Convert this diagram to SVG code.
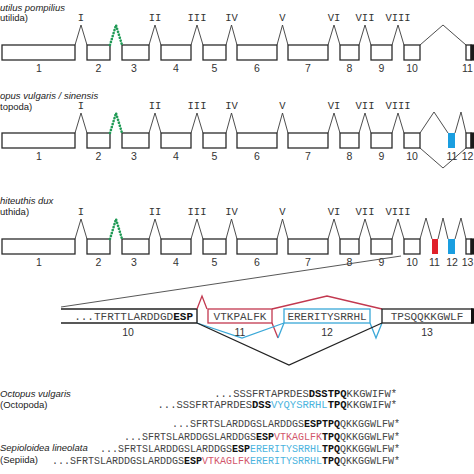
<svg xmlns="http://www.w3.org/2000/svg" width="474" height="474" viewBox="0 0 474 474">
<style>
.ex{fill:#fff;stroke:#2b2b2b;stroke-width:1.3}
.in{fill:none;stroke:#3a3a3a;stroke-width:0.9}
.gr{fill:none;stroke:#1f9a55;stroke-width:2.6;stroke-dasharray:0.1 3;stroke-linecap:round}
.rn{font-family:"Liberation Mono",monospace;font-size:10.5px;fill:#333;text-anchor:middle}
.nm{font-family:"Liberation Sans",Arial,sans-serif;font-size:10.5px;fill:#333;text-anchor:middle}
.sp{font-family:"Liberation Sans",Arial,sans-serif;font-size:9.5px;fill:#222}
.it{font-style:italic}
.sq{font-family:"Liberation Mono",monospace;font-size:10px;fill:#444}
.sq2{font-family:"Liberation Mono",monospace;font-size:10.5px;fill:#444}
.dt{font-family:"Liberation Mono",monospace;font-size:11px;fill:#444}
.b{font-weight:bold;fill:#111}
.r{fill:#d2566b}
.bl{fill:#4cb4de}
</style>
<defs>
<g id="trk">
<rect class="ex" x="2" y="0" width="73" height="15"/>
<rect class="ex" x="87" y="0" width="23" height="15"/>
<rect class="ex" x="122" y="0" width="27" height="15"/>
<rect class="ex" x="161" y="0" width="30" height="15"/>
<rect class="ex" x="203" y="0" width="23" height="15"/>
<rect class="ex" x="237" y="0" width="40" height="15"/>
<rect class="ex" x="288" y="0" width="40" height="15"/>
<rect class="ex" x="340" y="0" width="19" height="15"/>
<rect class="ex" x="371" y="0" width="21" height="15"/>
<rect class="ex" x="404" y="0" width="16" height="15"/>
<polyline class="in" points="75,0 81,-20 87,0"/>
<polyline class="gr" points="110,0 116,-20 122,0"/>
<polyline class="in" points="149,0 155,-20 161,0"/>
<polyline class="in" points="191,0 197,-20 203,0"/>
<polyline class="in" points="226,0 231.5,-20 237,0"/>
<polyline class="in" points="277,0 282.5,-20 288,0"/>
<polyline class="in" points="328,0 334,-20 340,0"/>
<polyline class="in" points="359,0 365,-20 371,0"/>
<polyline class="in" points="392,0 398,-20 404,0"/>
<text class="rn" x="81" y="-24">I</text>
<text class="rn" x="155" y="-24">II</text>
<text class="rn" x="197" y="-24">III</text>
<text class="rn" x="231.5" y="-24">IV</text>
<text class="rn" x="282.5" y="-24">V</text>
<text class="rn" x="334" y="-24">VI</text>
<text class="rn" x="365" y="-24">VII</text>
<text class="rn" x="398" y="-24">VIII</text>
<text class="nm" x="39" y="26.5">1</text>
<text class="nm" x="98.5" y="26.5">2</text>
<text class="nm" x="134" y="26.5">3</text>
<text class="nm" x="176" y="26.5">4</text>
<text class="nm" x="214.5" y="26.5">5</text>
<text class="nm" x="257" y="26.5">6</text>
<text class="nm" x="308" y="26.5">7</text>
<text class="nm" x="349.5" y="26.5">8</text>
<text class="nm" x="381.5" y="26.5">9</text>
<text class="nm" x="412" y="26.5">10</text>
</g>
</defs>

<g id="nautilus">
<text class="sp it" x="0" y="11">utilus pompilius</text>
<text class="sp" x="0" y="21">utilida)</text>
<g transform="translate(0,45)">
<use href="#trk"/>
<polyline class="in" points="420,0 443,-20 466,0"/>
<rect class="ex" x="466" y="0" width="5" height="15"/>
<rect x="470.5" y="-0.6" width="4" height="16.2" fill="#1a1a1a"/>
<text class="nm" x="467.5" y="26.5">11</text>
</g>
</g>

<g id="octopus">
<text class="sp it" x="0" y="99">opus vulgaris / sinensis</text>
<text class="sp" x="0" y="110">topoda)</text>
<g transform="translate(0,133)">
<use href="#trk"/>
<polyline class="in" points="420,0 434,-21 448,0"/>
<rect x="448" y="0" width="7" height="15" fill="#1a9ee0"/>
<polyline class="in" points="455,0 461,-21 466,0"/>
<polyline class="in" points="420,15 443,35 466,15"/>
<rect class="ex" x="466" y="0" width="5" height="15"/>
<rect x="470.5" y="-0.6" width="4" height="16.2" fill="#1a1a1a"/>
<text class="nm" x="452" y="26.5">11</text>
<text class="nm" x="467.5" y="26.5">12</text>
</g>
</g>

<g id="architeuthis">
<text class="sp it" x="0" y="204">hiteuthis dux</text>
<text class="sp" x="0" y="215">uthida)</text>
<g transform="translate(0,239)">
<use href="#trk"/>
<polyline class="in" points="420,0 426,-21 432,0"/>
<rect x="432" y="0" width="6" height="15" fill="#e0202a"/>
<polyline class="in" points="438,0 443,-21 448,0"/>
<rect x="448" y="0" width="7" height="15" fill="#1a9ee0"/>
<polyline class="in" points="455,0 461,-21 466,0"/>
<rect class="ex" x="466" y="0" width="5" height="15"/>
<rect x="470.5" y="-0.6" width="4" height="16.2" fill="#1a1a1a"/>
<text class="nm" x="434.5" y="26.5">11</text>
<text class="nm" x="452" y="26.5">12</text>
<text class="nm" x="467.5" y="26.5">13</text>
</g>
</g>

<g id="connectors">
<line x1="61" y1="307" x2="401" y2="256" stroke="#444" stroke-width="0.9"/>
<polyline points="61,309 197,309 197,323 61,323" fill="none" stroke="#222" stroke-width="1.4"/>
<polyline points="197,309 202,296 207,309" fill="none" stroke="#c2384f" stroke-width="1.3"/>
<polyline points="272,309 327,296 382,309" fill="none" stroke="#c2384f" stroke-width="1.3"/>
<polyline points="272,323 278,338" fill="none" stroke="#c2384f" stroke-width="1.3"/>
<polyline points="278,338 284,323" fill="none" stroke="#3aa8d8" stroke-width="1.3"/>
<polyline points="197,323 242,338 284,323" fill="none" stroke="#3aa8d8" stroke-width="1.3"/>
<polyline points="370,323 376,338 382,323" fill="none" stroke="#3aa8d8" stroke-width="1.3"/>
<polyline points="197,323 289,365 382,323" fill="none" stroke="#222" stroke-width="1.3"/>
</g>

<g id="detail">
<rect x="208" y="309" width="64" height="14" fill="#fff" stroke="#c2384f" stroke-width="1.3"/>
<rect x="284" y="309" width="86" height="14" fill="#fff" stroke="#3aa8d8" stroke-width="1.3"/>
<rect x="382" y="309" width="90" height="14" fill="#fff" stroke="#222" stroke-width="1.3"/>
<rect x="471" y="308.3" width="3" height="15.4" fill="#111"/>
<text class="dt" x="193" y="320" text-anchor="end">...TFRTTLARDDGD<tspan class="b">ESP</tspan></text>
<text class="dt" x="240" y="320" text-anchor="middle" fill="#c2384f">VTKPALFK</text>
<text class="dt" x="327" y="320" text-anchor="middle" fill="#3aa8d8">ERERITYSRRHL</text>
<text class="dt" x="427" y="320" text-anchor="middle">TPSQQKKGWLF</text>
<text class="nm" x="128" y="336" font-size="11">10</text>
<text class="nm" x="240" y="336" font-size="11" fill="#c2384f">11</text>
<text class="nm" x="327" y="336" font-size="11" fill="#3aa8d8">12</text>
<text class="nm" x="427" y="336" font-size="11">13</text>
</g>

<g id="sequences">
<text class="sp it" x="0" y="397">Octopus vulgaris</text>
<text class="sp" x="0" y="408">(Octopoda)</text>
<text class="sq2" x="397" y="397" text-anchor="end">...SSSFRTAPRDES<tspan class="b">DSSTPQ</tspan>KKGWIFW*</text>
<text class="sq2" x="397" y="408" text-anchor="end">...SSSFRTAPRDES<tspan class="b">DSS</tspan><tspan class="bl">VYQYSRRHL</tspan><tspan class="b">TPQ</tspan>KKGWIFW*</text>
<text class="sp it" x="0" y="451">Sepioloidea lineolata</text>
<text class="sp" x="0" y="463">(Sepiida)</text>
<text class="sq" x="400" y="427" text-anchor="end">...SFRTSLARDDGSLARDDGS<tspan class="b">ESPTPQ</tspan>QKKGGWLFW*</text>
<text class="sq" x="400" y="440" text-anchor="end">...SFRTSLARDDGSLARDDGS<tspan class="b">ESP</tspan><tspan class="r">VTKAGLFK</tspan><tspan class="b">TPQ</tspan>QKKGGWLFW*</text>
<text class="sq" x="400" y="452" text-anchor="end">...SFRTSLARDDGSLARDDGS<tspan class="b">ESP</tspan><tspan class="bl">ERERITYSRRHL</tspan><tspan class="b">TPQ</tspan>QKKGGWLFW*</text>
<text class="sq" x="400" y="464" text-anchor="end">...SFRTSLARDDGSLARDDGS<tspan class="b">ESP</tspan><tspan class="r">VTKAGLFK</tspan><tspan class="bl">ERERITYSRRHL</tspan><tspan class="b">TPQ</tspan>QKKGGWLFW*</text>
</g>
</svg>
